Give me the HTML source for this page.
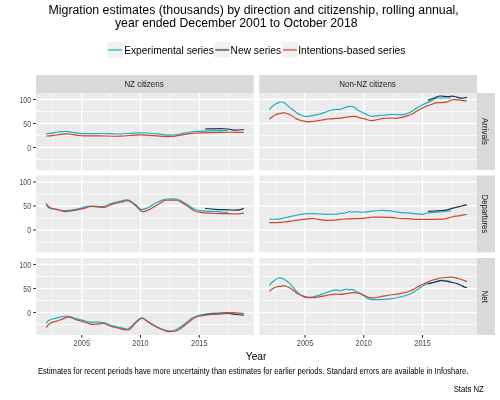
<!DOCTYPE html>
<html><head><meta charset="utf-8"><style>
html,body{margin:0;padding:0;width:500px;height:400px;overflow:hidden;background:#fff}
svg text{font-family:"Liberation Sans",sans-serif}
</style></head><body>
<svg width="500" height="400" viewBox="0 0 500 400" style="position:absolute;left:0;top:0;will-change:transform">
<rect width="500" height="400" fill="#fff"/>
<rect x="36.0" y="75" width="217.75" height="18" fill="#D9D9D9"/>
<rect x="259.25" y="75" width="217.75" height="18" fill="#D9D9D9"/>
<rect x="477" y="93.0" width="18" height="77.0" fill="#D9D9D9"/>
<rect x="477" y="175.5" width="18" height="77.0" fill="#D9D9D9"/>
<rect x="477" y="258.0" width="18" height="77.0" fill="#D9D9D9"/>
<rect x="36.0" y="93.0" width="217.75" height="77.0" fill="#EBEBEB"/>
<line x1="36.0" x2="253.75" y1="111.5" y2="111.5" stroke="#fff" stroke-width="0.66"/>
<line x1="36.0" x2="253.75" y1="135.5" y2="135.5" stroke="#fff" stroke-width="0.66"/>
<line x1="36.0" x2="253.75" y1="159.5" y2="159.5" stroke="#fff" stroke-width="0.66"/>
<line x1="52.375" x2="52.375" y1="93.0" y2="170.0" stroke="#fff" stroke-width="0.66"/>
<line x1="111.125" x2="111.125" y1="93.0" y2="170.0" stroke="#fff" stroke-width="0.66"/>
<line x1="169.875" x2="169.875" y1="93.0" y2="170.0" stroke="#fff" stroke-width="0.66"/>
<line x1="228.625" x2="228.625" y1="93.0" y2="170.0" stroke="#fff" stroke-width="0.66"/>
<line x1="36.0" x2="253.75" y1="99.5" y2="99.5" stroke="#fff" stroke-width="1.32"/>
<line x1="36.0" x2="253.75" y1="123.5" y2="123.5" stroke="#fff" stroke-width="1.32"/>
<line x1="36.0" x2="253.75" y1="147.5" y2="147.5" stroke="#fff" stroke-width="1.32"/>
<line x1="81.75" x2="81.75" y1="93.0" y2="170.0" stroke="#fff" stroke-width="1.32"/>
<line x1="140.5" x2="140.5" y1="93.0" y2="170.0" stroke="#fff" stroke-width="1.32"/>
<line x1="199.25" x2="199.25" y1="93.0" y2="170.0" stroke="#fff" stroke-width="1.32"/>
<rect x="36.0" y="175.5" width="217.75" height="77.0" fill="#EBEBEB"/>
<line x1="36.0" x2="253.75" y1="194.0" y2="194.0" stroke="#fff" stroke-width="0.66"/>
<line x1="36.0" x2="253.75" y1="218.0" y2="218.0" stroke="#fff" stroke-width="0.66"/>
<line x1="36.0" x2="253.75" y1="242.0" y2="242.0" stroke="#fff" stroke-width="0.66"/>
<line x1="52.375" x2="52.375" y1="175.5" y2="252.5" stroke="#fff" stroke-width="0.66"/>
<line x1="111.125" x2="111.125" y1="175.5" y2="252.5" stroke="#fff" stroke-width="0.66"/>
<line x1="169.875" x2="169.875" y1="175.5" y2="252.5" stroke="#fff" stroke-width="0.66"/>
<line x1="228.625" x2="228.625" y1="175.5" y2="252.5" stroke="#fff" stroke-width="0.66"/>
<line x1="36.0" x2="253.75" y1="182.0" y2="182.0" stroke="#fff" stroke-width="1.32"/>
<line x1="36.0" x2="253.75" y1="206.0" y2="206.0" stroke="#fff" stroke-width="1.32"/>
<line x1="36.0" x2="253.75" y1="230.0" y2="230.0" stroke="#fff" stroke-width="1.32"/>
<line x1="81.75" x2="81.75" y1="175.5" y2="252.5" stroke="#fff" stroke-width="1.32"/>
<line x1="140.5" x2="140.5" y1="175.5" y2="252.5" stroke="#fff" stroke-width="1.32"/>
<line x1="199.25" x2="199.25" y1="175.5" y2="252.5" stroke="#fff" stroke-width="1.32"/>
<rect x="36.0" y="258.0" width="217.75" height="77.0" fill="#EBEBEB"/>
<line x1="36.0" x2="253.75" y1="276.5" y2="276.5" stroke="#fff" stroke-width="0.66"/>
<line x1="36.0" x2="253.75" y1="300.5" y2="300.5" stroke="#fff" stroke-width="0.66"/>
<line x1="36.0" x2="253.75" y1="324.5" y2="324.5" stroke="#fff" stroke-width="0.66"/>
<line x1="52.375" x2="52.375" y1="258.0" y2="335.0" stroke="#fff" stroke-width="0.66"/>
<line x1="111.125" x2="111.125" y1="258.0" y2="335.0" stroke="#fff" stroke-width="0.66"/>
<line x1="169.875" x2="169.875" y1="258.0" y2="335.0" stroke="#fff" stroke-width="0.66"/>
<line x1="228.625" x2="228.625" y1="258.0" y2="335.0" stroke="#fff" stroke-width="0.66"/>
<line x1="36.0" x2="253.75" y1="264.5" y2="264.5" stroke="#fff" stroke-width="1.32"/>
<line x1="36.0" x2="253.75" y1="288.5" y2="288.5" stroke="#fff" stroke-width="1.32"/>
<line x1="36.0" x2="253.75" y1="312.5" y2="312.5" stroke="#fff" stroke-width="1.32"/>
<line x1="81.75" x2="81.75" y1="258.0" y2="335.0" stroke="#fff" stroke-width="1.32"/>
<line x1="140.5" x2="140.5" y1="258.0" y2="335.0" stroke="#fff" stroke-width="1.32"/>
<line x1="199.25" x2="199.25" y1="258.0" y2="335.0" stroke="#fff" stroke-width="1.32"/>
<rect x="259.25" y="93.0" width="217.75" height="77.0" fill="#EBEBEB"/>
<line x1="259.25" x2="477.0" y1="111.5" y2="111.5" stroke="#fff" stroke-width="0.66"/>
<line x1="259.25" x2="477.0" y1="135.5" y2="135.5" stroke="#fff" stroke-width="0.66"/>
<line x1="259.25" x2="477.0" y1="159.5" y2="159.5" stroke="#fff" stroke-width="0.66"/>
<line x1="275.625" x2="275.625" y1="93.0" y2="170.0" stroke="#fff" stroke-width="0.66"/>
<line x1="334.375" x2="334.375" y1="93.0" y2="170.0" stroke="#fff" stroke-width="0.66"/>
<line x1="393.125" x2="393.125" y1="93.0" y2="170.0" stroke="#fff" stroke-width="0.66"/>
<line x1="451.875" x2="451.875" y1="93.0" y2="170.0" stroke="#fff" stroke-width="0.66"/>
<line x1="259.25" x2="477.0" y1="99.5" y2="99.5" stroke="#fff" stroke-width="1.32"/>
<line x1="259.25" x2="477.0" y1="123.5" y2="123.5" stroke="#fff" stroke-width="1.32"/>
<line x1="259.25" x2="477.0" y1="147.5" y2="147.5" stroke="#fff" stroke-width="1.32"/>
<line x1="305.0" x2="305.0" y1="93.0" y2="170.0" stroke="#fff" stroke-width="1.32"/>
<line x1="363.75" x2="363.75" y1="93.0" y2="170.0" stroke="#fff" stroke-width="1.32"/>
<line x1="422.5" x2="422.5" y1="93.0" y2="170.0" stroke="#fff" stroke-width="1.32"/>
<rect x="259.25" y="175.5" width="217.75" height="77.0" fill="#EBEBEB"/>
<line x1="259.25" x2="477.0" y1="194.0" y2="194.0" stroke="#fff" stroke-width="0.66"/>
<line x1="259.25" x2="477.0" y1="218.0" y2="218.0" stroke="#fff" stroke-width="0.66"/>
<line x1="259.25" x2="477.0" y1="242.0" y2="242.0" stroke="#fff" stroke-width="0.66"/>
<line x1="275.625" x2="275.625" y1="175.5" y2="252.5" stroke="#fff" stroke-width="0.66"/>
<line x1="334.375" x2="334.375" y1="175.5" y2="252.5" stroke="#fff" stroke-width="0.66"/>
<line x1="393.125" x2="393.125" y1="175.5" y2="252.5" stroke="#fff" stroke-width="0.66"/>
<line x1="451.875" x2="451.875" y1="175.5" y2="252.5" stroke="#fff" stroke-width="0.66"/>
<line x1="259.25" x2="477.0" y1="182.0" y2="182.0" stroke="#fff" stroke-width="1.32"/>
<line x1="259.25" x2="477.0" y1="206.0" y2="206.0" stroke="#fff" stroke-width="1.32"/>
<line x1="259.25" x2="477.0" y1="230.0" y2="230.0" stroke="#fff" stroke-width="1.32"/>
<line x1="305.0" x2="305.0" y1="175.5" y2="252.5" stroke="#fff" stroke-width="1.32"/>
<line x1="363.75" x2="363.75" y1="175.5" y2="252.5" stroke="#fff" stroke-width="1.32"/>
<line x1="422.5" x2="422.5" y1="175.5" y2="252.5" stroke="#fff" stroke-width="1.32"/>
<rect x="259.25" y="258.0" width="217.75" height="77.0" fill="#EBEBEB"/>
<line x1="259.25" x2="477.0" y1="276.5" y2="276.5" stroke="#fff" stroke-width="0.66"/>
<line x1="259.25" x2="477.0" y1="300.5" y2="300.5" stroke="#fff" stroke-width="0.66"/>
<line x1="259.25" x2="477.0" y1="324.5" y2="324.5" stroke="#fff" stroke-width="0.66"/>
<line x1="275.625" x2="275.625" y1="258.0" y2="335.0" stroke="#fff" stroke-width="0.66"/>
<line x1="334.375" x2="334.375" y1="258.0" y2="335.0" stroke="#fff" stroke-width="0.66"/>
<line x1="393.125" x2="393.125" y1="258.0" y2="335.0" stroke="#fff" stroke-width="0.66"/>
<line x1="451.875" x2="451.875" y1="258.0" y2="335.0" stroke="#fff" stroke-width="0.66"/>
<line x1="259.25" x2="477.0" y1="264.5" y2="264.5" stroke="#fff" stroke-width="1.32"/>
<line x1="259.25" x2="477.0" y1="288.5" y2="288.5" stroke="#fff" stroke-width="1.32"/>
<line x1="259.25" x2="477.0" y1="312.5" y2="312.5" stroke="#fff" stroke-width="1.32"/>
<line x1="305.0" x2="305.0" y1="258.0" y2="335.0" stroke="#fff" stroke-width="1.32"/>
<line x1="363.75" x2="363.75" y1="258.0" y2="335.0" stroke="#fff" stroke-width="1.32"/>
<line x1="422.5" x2="422.5" y1="258.0" y2="335.0" stroke="#fff" stroke-width="1.32"/>
<path d="M46.20,133.60 C46.83,133.57 48.70,133.53 50.00,133.40 C51.30,133.27 52.67,133.03 54.00,132.80 C55.33,132.57 56.67,132.20 58.00,132.00 C59.33,131.80 60.67,131.70 62.00,131.60 C63.33,131.50 64.67,131.37 66.00,131.40 C67.33,131.43 68.67,131.60 70.00,131.80 C71.33,132.00 72.67,132.37 74.00,132.60 C75.33,132.83 76.33,133.03 78.00,133.20 C79.67,133.37 80.33,133.55 84.00,133.60 C87.67,133.65 95.50,133.50 100.00,133.50 C104.50,133.50 107.67,133.52 111.00,133.60 C114.33,133.68 116.50,134.07 120.00,134.00 C123.50,133.93 128.67,133.40 132.00,133.20 C135.33,133.00 137.33,132.83 140.00,132.80 C142.67,132.77 146.00,132.88 148.00,133.00 C150.00,133.12 150.00,133.30 152.00,133.50 C154.00,133.70 157.00,133.92 160.00,134.20 C163.00,134.48 166.67,135.23 170.00,135.20 C173.33,135.17 176.67,134.53 180.00,134.00 C183.33,133.47 186.67,132.45 190.00,132.00 C193.33,131.55 195.00,131.53 200.00,131.30 C205.00,131.07 215.33,130.73 220.00,130.60 C224.67,130.47 226.67,130.52 228.00,130.50" fill="none" stroke="#1CAEC4" stroke-width="1.2" stroke-linejoin="round"/>
<path d="M269.30,109.60 C269.82,109.07 271.35,107.33 272.40,106.40 C273.45,105.47 274.50,104.67 275.60,104.00 C276.70,103.33 278.10,102.73 279.00,102.40 C279.90,102.07 280.33,102.02 281.00,102.00 C281.67,101.98 282.30,102.03 283.00,102.30 C283.70,102.57 284.37,102.98 285.20,103.60 C286.03,104.22 287.03,105.20 288.00,106.00 C288.97,106.80 290.00,107.60 291.00,108.40 C292.00,109.20 293.00,110.03 294.00,110.80 C295.00,111.57 296.00,112.33 297.00,113.00 C298.00,113.67 298.83,114.30 300.00,114.80 C301.17,115.30 303.00,115.72 304.00,116.00 C305.00,116.28 305.33,116.43 306.00,116.50 C306.67,116.57 307.00,116.55 308.00,116.40 C309.00,116.25 310.67,115.87 312.00,115.60 C313.33,115.33 314.67,115.07 316.00,114.80 C317.33,114.53 318.67,114.37 320.00,114.00 C321.33,113.63 322.67,113.07 324.00,112.60 C325.33,112.13 326.67,111.63 328.00,111.20 C329.33,110.77 330.67,110.30 332.00,110.00 C333.33,109.70 334.67,109.50 336.00,109.40 C337.33,109.30 338.50,109.70 340.00,109.40 C341.50,109.10 343.67,108.07 345.00,107.60 C346.33,107.13 346.83,106.78 348.00,106.60 C349.17,106.42 351.00,106.42 352.00,106.50 C353.00,106.58 353.17,106.62 354.00,107.10 C354.83,107.58 356.00,108.72 357.00,109.40 C358.00,110.08 358.83,110.57 360.00,111.20 C361.17,111.83 362.67,112.53 364.00,113.20 C365.33,113.87 366.67,114.67 368.00,115.20 C369.33,115.73 370.67,116.27 372.00,116.40 C373.33,116.53 374.67,116.18 376.00,116.00 C377.33,115.82 378.67,115.43 380.00,115.30 C381.33,115.17 382.67,115.28 384.00,115.20 C385.33,115.12 386.67,114.93 388.00,114.80 C389.33,114.67 390.67,114.43 392.00,114.40 C393.33,114.37 394.67,114.57 396.00,114.60 C397.33,114.63 398.67,114.60 400.00,114.60 C401.33,114.60 402.67,114.83 404.00,114.60 C405.33,114.37 406.67,113.77 408.00,113.20 C409.33,112.63 410.67,112.00 412.00,111.20 C413.33,110.40 414.67,109.27 416.00,108.40 C417.33,107.53 418.67,106.73 420.00,106.00 C421.33,105.27 422.67,104.60 424.00,104.00 C425.33,103.40 426.67,102.97 428.00,102.40 C429.33,101.83 430.67,101.28 432.00,100.60 C433.33,99.92 434.67,98.73 436.00,98.30 C437.33,97.87 437.47,98.05 440.00,98.00 C442.53,97.95 449.33,98.00 451.20,98.00" fill="none" stroke="#1CAEC4" stroke-width="1.2" stroke-linejoin="round"/>
<path d="M46.20,205.00 C46.50,205.33 47.37,206.43 48.00,207.00 C48.63,207.57 49.00,208.03 50.00,208.40 C51.00,208.77 52.33,208.93 54.00,209.20 C55.67,209.47 58.33,209.77 60.00,210.00 C61.67,210.23 62.67,210.53 64.00,210.60 C65.33,210.67 66.33,210.57 68.00,210.40 C69.67,210.23 72.00,209.93 74.00,209.60 C76.00,209.27 78.33,208.80 80.00,208.40 C81.67,208.00 82.67,207.53 84.00,207.20 C85.33,206.87 86.67,206.60 88.00,206.40 C89.33,206.20 90.67,206.03 92.00,206.00 C93.33,205.97 94.67,206.10 96.00,206.20 C97.33,206.30 98.67,206.57 100.00,206.60 C101.33,206.63 102.67,206.70 104.00,206.40 C105.33,206.10 106.67,205.30 108.00,204.80 C109.33,204.30 110.67,203.80 112.00,203.40 C113.33,203.00 114.67,202.77 116.00,202.40 C117.33,202.03 118.67,201.55 120.00,201.20 C121.33,200.85 122.83,200.53 124.00,200.30 C125.17,200.07 126.00,199.72 127.00,199.80 C128.00,199.88 128.50,199.93 130.00,200.80 C131.50,201.67 134.17,203.60 136.00,205.00 C137.83,206.40 139.33,208.60 141.00,209.20 C142.67,209.80 144.17,209.23 146.00,208.60 C147.83,207.97 150.00,206.50 152.00,205.40 C154.00,204.30 156.00,202.97 158.00,202.00 C160.00,201.03 162.33,200.10 164.00,199.60 C165.67,199.10 166.00,199.10 168.00,199.00 C170.00,198.90 174.00,198.80 176.00,199.00 C178.00,199.20 178.00,199.20 180.00,200.20 C182.00,201.20 185.67,203.53 188.00,205.00 C190.33,206.47 192.00,208.05 194.00,209.00 C196.00,209.95 197.00,210.30 200.00,210.70 C203.00,211.10 207.33,211.10 212.00,211.40 C216.67,211.70 225.33,212.32 228.00,212.50" fill="none" stroke="#1CAEC4" stroke-width="1.2" stroke-linejoin="round"/>
<path d="M269.30,219.20 C270.42,219.20 274.22,219.27 276.00,219.20 C277.78,219.13 278.67,219.03 280.00,218.80 C281.33,218.57 282.67,218.07 284.00,217.80 C285.33,217.53 286.67,217.47 288.00,217.20 C289.33,216.93 290.67,216.50 292.00,216.20 C293.33,215.90 294.67,215.68 296.00,215.40 C297.33,215.12 298.67,214.73 300.00,214.50 C301.33,214.27 302.67,214.15 304.00,214.00 C305.33,213.85 306.67,213.67 308.00,213.60 C309.33,213.53 310.00,213.53 312.00,213.60 C314.00,213.67 317.33,213.87 320.00,214.00 C322.67,214.13 325.33,214.37 328.00,214.40 C330.67,214.43 334.33,214.25 336.00,214.20 C337.67,214.15 337.33,214.23 338.00,214.10 C338.67,213.97 339.00,213.55 340.00,213.40 C341.00,213.25 343.00,213.30 344.00,213.20 C345.00,213.10 345.33,213.02 346.00,212.80 C346.67,212.58 347.42,212.12 348.00,211.90 C348.58,211.68 348.92,211.45 349.50,211.50 C350.08,211.55 350.75,212.15 351.50,212.20 C352.25,212.25 353.08,211.87 354.00,211.80 C354.92,211.73 356.00,211.73 357.00,211.80 C358.00,211.87 358.83,212.13 360.00,212.20 C361.17,212.27 362.33,212.33 364.00,212.20 C365.67,212.07 367.33,211.68 370.00,211.40 C372.67,211.12 376.67,210.60 380.00,210.50 C383.33,210.40 387.33,210.58 390.00,210.80 C392.67,211.02 394.33,211.53 396.00,211.80 C397.67,212.07 398.67,212.22 400.00,212.40 C401.33,212.58 402.67,212.82 404.00,212.90 C405.33,212.98 406.67,212.82 408.00,212.90 C409.33,212.98 410.67,213.25 412.00,213.40 C413.33,213.55 414.67,213.67 416.00,213.80 C417.33,213.93 419.00,214.10 420.00,214.20 C421.00,214.30 421.33,214.47 422.00,214.40 C422.67,214.33 423.00,214.03 424.00,213.80 C425.00,213.57 426.67,213.20 428.00,213.00 C429.33,212.80 430.67,212.73 432.00,212.60 C433.33,212.47 434.67,212.30 436.00,212.20 C437.33,212.10 438.33,212.12 440.00,212.00 C441.67,211.88 444.13,211.68 446.00,211.50 C447.87,211.32 450.33,211.00 451.20,210.90" fill="none" stroke="#1CAEC4" stroke-width="1.2" stroke-linejoin="round"/>
<path d="M46.20,323.20 C46.50,322.83 47.37,321.57 48.00,321.00 C48.63,320.43 49.33,320.13 50.00,319.80 C50.67,319.47 51.00,319.27 52.00,319.00 C53.00,318.73 54.67,318.50 56.00,318.20 C57.33,317.90 58.67,317.50 60.00,317.20 C61.33,316.90 62.83,316.60 64.00,316.40 C65.17,316.20 66.00,315.97 67.00,316.00 C68.00,316.03 68.83,316.27 70.00,316.60 C71.17,316.93 73.00,317.67 74.00,318.00 C75.00,318.33 75.00,318.33 76.00,318.60 C77.00,318.87 78.67,319.27 80.00,319.60 C81.33,319.93 82.67,320.27 84.00,320.60 C85.33,320.93 86.67,321.32 88.00,321.60 C89.33,321.88 90.67,322.22 92.00,322.30 C93.33,322.38 94.67,322.12 96.00,322.10 C97.33,322.08 98.67,322.12 100.00,322.20 C101.33,322.28 102.67,322.25 104.00,322.60 C105.33,322.95 106.67,323.80 108.00,324.30 C109.33,324.80 110.67,325.23 112.00,325.60 C113.33,325.97 115.00,326.23 116.00,326.50 C117.00,326.77 116.67,326.88 118.00,327.20 C119.33,327.52 122.33,328.12 124.00,328.40 C125.67,328.68 126.67,329.33 128.00,328.90 C129.33,328.47 130.67,327.02 132.00,325.80 C133.33,324.58 134.67,322.80 136.00,321.60 C137.33,320.40 138.92,319.20 140.00,318.60 C141.08,318.00 141.17,317.50 142.50,318.00 C143.83,318.50 146.42,320.60 148.00,321.60 C149.58,322.60 150.67,323.20 152.00,324.00 C153.33,324.80 154.67,325.68 156.00,326.40 C157.33,327.12 158.67,327.73 160.00,328.30 C161.33,328.87 162.92,329.42 164.00,329.80 C165.08,330.18 165.50,330.42 166.50,330.60 C167.50,330.78 168.75,330.90 170.00,330.90 C171.25,330.90 172.83,330.92 174.00,330.60 C175.17,330.28 176.00,329.57 177.00,329.00 C178.00,328.43 178.83,327.97 180.00,327.20 C181.17,326.43 182.67,325.40 184.00,324.40 C185.33,323.40 186.67,322.27 188.00,321.20 C189.33,320.13 190.67,318.80 192.00,318.00 C193.33,317.20 194.67,316.87 196.00,316.40 C197.33,315.93 198.33,315.57 200.00,315.20 C201.67,314.83 203.50,314.53 206.00,314.20 C208.50,313.87 211.33,313.48 215.00,313.20 C218.67,312.92 225.83,312.62 228.00,312.50" fill="none" stroke="#1CAEC4" stroke-width="1.2" stroke-linejoin="round"/>
<path d="M269.30,285.40 C269.82,284.83 271.35,282.97 272.40,282.00 C273.45,281.03 274.60,280.27 275.60,279.60 C276.60,278.93 277.67,278.30 278.40,278.00 C279.13,277.70 279.40,277.75 280.00,277.80 C280.60,277.85 281.13,277.93 282.00,278.30 C282.87,278.67 284.20,279.38 285.20,280.00 C286.20,280.62 287.03,281.20 288.00,282.00 C288.97,282.80 290.00,283.73 291.00,284.80 C292.00,285.87 293.00,287.27 294.00,288.40 C295.00,289.53 296.00,290.60 297.00,291.60 C298.00,292.60 299.00,293.60 300.00,294.40 C301.00,295.20 302.00,295.90 303.00,296.40 C304.00,296.90 304.83,297.23 306.00,297.40 C307.17,297.57 308.00,297.70 310.00,297.40 C312.00,297.10 315.33,296.37 318.00,295.60 C320.67,294.83 323.33,293.70 326.00,292.80 C328.67,291.90 332.17,290.67 334.00,290.20 C335.83,289.73 336.00,289.90 337.00,290.00 C338.00,290.10 338.83,290.87 340.00,290.80 C341.17,290.73 342.93,289.90 344.00,289.60 C345.07,289.30 345.57,288.97 346.40,289.00 C347.23,289.03 348.07,289.73 349.00,289.80 C349.93,289.87 351.00,289.23 352.00,289.40 C353.00,289.57 354.00,290.30 355.00,290.80 C356.00,291.30 356.83,291.80 358.00,292.40 C359.17,293.00 360.67,293.60 362.00,294.40 C363.33,295.20 364.83,296.43 366.00,297.20 C367.17,297.97 368.00,298.60 369.00,299.00 C370.00,299.40 370.50,299.50 372.00,299.60 C373.50,299.70 375.00,299.72 378.00,299.60 C381.00,299.48 386.33,299.33 390.00,298.90 C393.67,298.47 396.67,297.82 400.00,297.00 C403.33,296.18 407.33,295.08 410.00,294.00 C412.67,292.92 414.33,291.53 416.00,290.50 C417.67,289.47 418.50,288.75 420.00,287.80 C421.50,286.85 423.33,285.55 425.00,284.80 C426.67,284.05 428.17,283.85 430.00,283.30 C431.83,282.75 434.00,281.98 436.00,281.50 C438.00,281.02 439.47,280.35 442.00,280.40 C444.53,280.45 449.67,281.57 451.20,281.80" fill="none" stroke="#1CAEC4" stroke-width="1.2" stroke-linejoin="round"/>
<path d="M205.00,129.00 C207.50,128.95 216.17,128.70 220.00,128.70 C223.83,128.70 225.50,128.75 228.00,129.00 C230.50,129.25 232.37,130.10 235.00,130.20 C237.63,130.30 242.33,129.70 243.80,129.60" fill="none" stroke="#1E3450" stroke-width="1.2" stroke-linejoin="round"/>
<path d="M428.00,100.40 C428.67,100.13 430.67,99.33 432.00,98.80 C433.33,98.27 434.67,97.67 436.00,97.20 C437.33,96.73 438.67,96.13 440.00,96.00 C441.33,95.87 442.67,96.30 444.00,96.40 C445.33,96.50 446.67,96.63 448.00,96.60 C449.33,96.57 450.67,96.17 452.00,96.20 C453.33,96.23 454.67,96.52 456.00,96.80 C457.33,97.08 458.67,97.70 460.00,97.90 C461.33,98.10 462.85,98.12 464.00,98.00 C465.15,97.88 466.42,97.33 466.90,97.20" fill="none" stroke="#1E3450" stroke-width="1.2" stroke-linejoin="round"/>
<path d="M205.00,208.30 C206.67,208.47 211.17,209.05 215.00,209.30 C218.83,209.55 224.50,209.65 228.00,209.80 C231.50,209.95 234.00,210.22 236.00,210.20 C238.00,210.18 238.70,210.02 240.00,209.70 C241.30,209.38 243.17,208.53 243.80,208.30" fill="none" stroke="#1E3450" stroke-width="1.2" stroke-linejoin="round"/>
<path d="M428.00,211.40 C430.00,211.27 437.33,210.77 440.00,210.60 C442.67,210.43 442.67,210.57 444.00,210.40 C445.33,210.23 446.67,209.93 448.00,209.60 C449.33,209.27 450.67,208.77 452.00,208.40 C453.33,208.03 454.67,207.73 456.00,207.40 C457.33,207.07 458.67,206.73 460.00,206.40 C461.33,206.07 462.85,205.67 464.00,205.40 C465.15,205.13 466.42,204.90 466.90,204.80" fill="none" stroke="#1E3450" stroke-width="1.2" stroke-linejoin="round"/>
<path d="M205.00,314.50 C207.50,314.38 216.17,313.97 220.00,313.80 C223.83,313.63 225.33,313.38 228.00,313.50 C230.67,313.62 233.37,314.20 236.00,314.50 C238.63,314.80 242.50,315.17 243.80,315.30" fill="none" stroke="#1E3450" stroke-width="1.2" stroke-linejoin="round"/>
<path d="M428.00,283.80 C429.33,283.50 434.00,282.52 436.00,282.00 C438.00,281.48 438.50,280.87 440.00,280.70 C441.50,280.53 443.33,280.78 445.00,281.00 C446.67,281.22 448.33,281.67 450.00,282.00 C451.67,282.33 453.33,282.53 455.00,283.00 C456.67,283.47 458.33,284.08 460.00,284.80 C461.67,285.52 463.85,286.88 465.00,287.30 C466.15,287.72 466.58,287.30 466.90,287.30" fill="none" stroke="#1E3450" stroke-width="1.2" stroke-linejoin="round"/>
<path d="M46.20,136.00 C46.83,135.97 48.70,135.90 50.00,135.80 C51.30,135.70 52.67,135.57 54.00,135.40 C55.33,135.23 56.67,135.00 58.00,134.80 C59.33,134.60 60.67,134.37 62.00,134.20 C63.33,134.03 64.67,133.83 66.00,133.80 C67.33,133.77 68.67,133.83 70.00,134.00 C71.33,134.17 72.67,134.57 74.00,134.80 C75.33,135.03 76.33,135.23 78.00,135.40 C79.67,135.57 80.33,135.73 84.00,135.80 C87.67,135.87 94.00,135.73 100.00,135.80 C106.00,135.87 113.33,136.37 120.00,136.20 C126.67,136.03 133.33,134.80 140.00,134.80 C146.67,134.80 154.67,135.93 160.00,136.20 C165.33,136.47 167.00,136.83 172.00,136.40 C177.00,135.97 185.33,134.18 190.00,133.60 C194.67,133.02 195.00,133.12 200.00,132.90 C205.00,132.68 212.70,132.40 220.00,132.30 C227.30,132.20 239.83,132.30 243.80,132.30" fill="none" stroke="#C9472E" stroke-width="1.2" stroke-linejoin="round"/>
<path d="M269.30,119.20 C269.82,118.80 271.35,117.53 272.40,116.80 C273.45,116.07 274.50,115.33 275.60,114.80 C276.70,114.27 277.93,113.87 279.00,113.60 C280.07,113.33 281.25,113.37 282.00,113.20 C282.75,113.03 282.83,112.60 283.50,112.60 C284.17,112.60 284.92,112.83 286.00,113.20 C287.08,113.57 288.83,114.27 290.00,114.80 C291.17,115.33 292.00,115.77 293.00,116.40 C294.00,117.03 294.83,117.97 296.00,118.60 C297.17,119.23 298.67,119.77 300.00,120.20 C301.33,120.63 302.83,120.93 304.00,121.20 C305.17,121.47 305.67,121.77 307.00,121.80 C308.33,121.83 310.50,121.53 312.00,121.40 C313.50,121.27 314.67,121.17 316.00,121.00 C317.33,120.83 318.67,120.63 320.00,120.40 C321.33,120.17 322.67,119.83 324.00,119.60 C325.33,119.37 326.67,119.13 328.00,119.00 C329.33,118.87 330.67,118.90 332.00,118.80 C333.33,118.70 334.67,118.50 336.00,118.40 C337.33,118.30 338.00,118.47 340.00,118.20 C342.00,117.93 345.50,117.10 348.00,116.80 C350.50,116.50 353.00,116.22 355.00,116.40 C357.00,116.58 358.50,117.53 360.00,117.90 C361.50,118.27 362.67,118.25 364.00,118.60 C365.33,118.95 366.67,119.67 368.00,120.00 C369.33,120.33 370.67,120.60 372.00,120.60 C373.33,120.60 374.67,120.27 376.00,120.00 C377.33,119.73 378.67,119.27 380.00,119.00 C381.33,118.73 382.67,118.53 384.00,118.40 C385.33,118.27 386.67,118.27 388.00,118.20 C389.33,118.13 390.67,117.98 392.00,118.00 C393.33,118.02 394.67,118.35 396.00,118.30 C397.33,118.25 398.67,117.95 400.00,117.70 C401.33,117.45 402.67,117.15 404.00,116.80 C405.33,116.45 406.67,116.07 408.00,115.60 C409.33,115.13 410.67,114.67 412.00,114.00 C413.33,113.33 414.67,112.40 416.00,111.60 C417.33,110.80 418.67,109.93 420.00,109.20 C421.33,108.47 422.67,107.80 424.00,107.20 C425.33,106.60 426.67,106.10 428.00,105.60 C429.33,105.10 430.67,104.67 432.00,104.20 C433.33,103.73 434.67,103.07 436.00,102.80 C437.33,102.53 438.67,102.67 440.00,102.60 C441.33,102.53 442.67,102.57 444.00,102.40 C445.33,102.23 446.83,101.97 448.00,101.60 C449.17,101.23 450.00,100.53 451.00,100.20 C452.00,99.87 452.83,99.67 454.00,99.60 C455.17,99.53 456.67,99.67 458.00,99.80 C459.33,99.93 460.52,100.20 462.00,100.40 C463.48,100.60 466.08,100.90 466.90,101.00" fill="none" stroke="#C9472E" stroke-width="1.2" stroke-linejoin="round"/>
<path d="M46.20,203.40 C46.50,203.83 47.37,205.30 48.00,206.00 C48.63,206.70 49.33,207.20 50.00,207.60 C50.67,208.00 51.00,208.13 52.00,208.40 C53.00,208.67 54.67,208.87 56.00,209.20 C57.33,209.53 58.83,210.05 60.00,210.40 C61.17,210.75 62.00,211.08 63.00,211.30 C64.00,211.52 64.83,211.72 66.00,211.70 C67.17,211.68 68.67,211.42 70.00,211.20 C71.33,210.98 72.67,210.67 74.00,210.40 C75.33,210.13 76.33,209.95 78.00,209.60 C79.67,209.25 82.33,208.73 84.00,208.30 C85.67,207.87 86.67,207.32 88.00,207.00 C89.33,206.68 90.67,206.43 92.00,206.40 C93.33,206.37 94.67,206.67 96.00,206.80 C97.33,206.93 98.67,207.10 100.00,207.20 C101.33,207.30 102.67,207.60 104.00,207.40 C105.33,207.20 106.67,206.50 108.00,206.00 C109.33,205.50 110.67,204.87 112.00,204.40 C113.33,203.93 114.67,203.53 116.00,203.20 C117.33,202.87 118.67,202.70 120.00,202.40 C121.33,202.10 122.83,201.70 124.00,201.40 C125.17,201.10 126.00,200.57 127.00,200.60 C128.00,200.63 128.50,200.70 130.00,201.60 C131.50,202.50 134.00,204.37 136.00,206.00 C138.00,207.63 140.00,210.70 142.00,211.40 C144.00,212.10 146.33,210.77 148.00,210.20 C149.67,209.63 150.33,208.93 152.00,208.00 C153.67,207.07 156.00,205.80 158.00,204.60 C160.00,203.40 162.33,201.53 164.00,200.80 C165.67,200.07 166.00,200.30 168.00,200.20 C170.00,200.10 174.00,200.00 176.00,200.20 C178.00,200.40 178.00,200.33 180.00,201.40 C182.00,202.47 185.67,205.07 188.00,206.60 C190.33,208.13 192.00,209.63 194.00,210.60 C196.00,211.57 196.50,211.92 200.00,212.40 C203.50,212.88 210.33,213.28 215.00,213.50 C219.67,213.72 224.50,213.62 228.00,213.70 C231.50,213.78 233.37,214.07 236.00,214.00 C238.63,213.93 242.50,213.42 243.80,213.30" fill="none" stroke="#C9472E" stroke-width="1.2" stroke-linejoin="round"/>
<path d="M269.30,222.60 C270.42,222.60 274.22,222.63 276.00,222.60 C277.78,222.57 278.67,222.50 280.00,222.40 C281.33,222.30 282.67,222.13 284.00,222.00 C285.33,221.87 286.67,221.77 288.00,221.60 C289.33,221.43 290.67,221.20 292.00,221.00 C293.33,220.80 294.67,220.60 296.00,220.40 C297.33,220.20 298.67,220.00 300.00,219.80 C301.33,219.60 302.50,219.37 304.00,219.20 C305.50,219.03 307.50,218.93 309.00,218.80 C310.50,218.67 311.83,218.37 313.00,218.40 C314.17,218.43 314.83,218.80 316.00,219.00 C317.17,219.20 318.67,219.40 320.00,219.60 C321.33,219.80 322.67,220.07 324.00,220.20 C325.33,220.33 326.67,220.40 328.00,220.40 C329.33,220.40 330.67,220.27 332.00,220.20 C333.33,220.13 334.67,220.13 336.00,220.00 C337.33,219.87 338.67,219.57 340.00,219.40 C341.33,219.23 342.33,219.10 344.00,219.00 C345.67,218.90 347.00,218.90 350.00,218.80 C353.00,218.70 359.33,218.53 362.00,218.40 C364.67,218.27 364.67,218.18 366.00,218.00 C367.33,217.82 368.50,217.45 370.00,217.30 C371.50,217.15 371.67,217.10 375.00,217.10 C378.33,217.10 385.83,217.07 390.00,217.30 C394.17,217.53 397.00,218.27 400.00,218.50 C403.00,218.73 406.00,218.62 408.00,218.70 C410.00,218.78 410.00,218.88 412.00,219.00 C414.00,219.12 417.33,219.33 420.00,219.40 C422.67,219.47 424.67,219.43 428.00,219.40 C431.33,219.37 437.33,219.27 440.00,219.20 C442.67,219.13 442.67,219.20 444.00,219.00 C445.33,218.80 446.67,218.33 448.00,218.00 C449.33,217.67 450.67,217.30 452.00,217.00 C453.33,216.70 454.67,216.43 456.00,216.20 C457.33,215.97 458.67,215.83 460.00,215.60 C461.33,215.37 462.85,215.00 464.00,214.80 C465.15,214.60 466.42,214.47 466.90,214.40" fill="none" stroke="#C9472E" stroke-width="1.2" stroke-linejoin="round"/>
<path d="M46.20,327.60 C46.50,327.20 47.37,325.87 48.00,325.20 C48.63,324.53 49.33,324.07 50.00,323.60 C50.67,323.13 51.00,322.80 52.00,322.40 C53.00,322.00 54.67,321.60 56.00,321.20 C57.33,320.80 58.67,320.47 60.00,320.00 C61.33,319.53 62.83,318.87 64.00,318.40 C65.17,317.93 66.00,317.37 67.00,317.20 C68.00,317.03 68.83,317.13 70.00,317.40 C71.17,317.67 73.00,318.43 74.00,318.80 C75.00,319.17 75.00,319.27 76.00,319.60 C77.00,319.93 78.67,320.40 80.00,320.80 C81.33,321.20 82.67,321.60 84.00,322.00 C85.33,322.40 86.67,322.82 88.00,323.20 C89.33,323.58 90.67,324.13 92.00,324.30 C93.33,324.47 94.67,324.28 96.00,324.20 C97.33,324.12 98.67,323.92 100.00,323.80 C101.33,323.68 102.67,323.27 104.00,323.50 C105.33,323.73 106.67,324.68 108.00,325.20 C109.33,325.72 110.67,326.20 112.00,326.60 C113.33,327.00 115.00,327.37 116.00,327.60 C117.00,327.83 116.00,327.60 118.00,328.00 C120.00,328.40 125.67,330.17 128.00,330.00 C130.33,329.83 130.67,328.23 132.00,327.00 C133.33,325.77 134.67,323.90 136.00,322.60 C137.33,321.30 138.83,319.92 140.00,319.20 C141.17,318.48 141.67,317.83 143.00,318.30 C144.33,318.77 146.50,320.98 148.00,322.00 C149.50,323.02 150.67,323.60 152.00,324.40 C153.33,325.20 154.67,326.08 156.00,326.80 C157.33,327.52 158.67,328.13 160.00,328.70 C161.33,329.27 162.83,329.77 164.00,330.20 C165.17,330.63 165.67,331.08 167.00,331.30 C168.33,331.52 170.50,331.55 172.00,331.50 C173.50,331.45 174.67,331.42 176.00,331.00 C177.33,330.58 178.67,329.83 180.00,329.00 C181.33,328.17 182.67,327.03 184.00,326.00 C185.33,324.97 186.67,323.90 188.00,322.80 C189.33,321.70 190.67,320.33 192.00,319.40 C193.33,318.47 194.67,317.77 196.00,317.20 C197.33,316.63 198.67,316.30 200.00,316.00 C201.33,315.70 201.50,315.77 204.00,315.40 C206.50,315.03 211.00,314.23 215.00,313.80 C219.00,313.37 224.50,312.97 228.00,312.80 C231.50,312.63 233.37,312.68 236.00,312.80 C238.63,312.92 242.50,313.38 243.80,313.50" fill="none" stroke="#C9472E" stroke-width="1.2" stroke-linejoin="round"/>
<path d="M269.30,291.40 C269.82,290.97 271.35,289.50 272.40,288.80 C273.45,288.10 274.50,287.60 275.60,287.20 C276.70,286.80 277.93,286.57 279.00,286.40 C280.07,286.23 281.33,286.32 282.00,286.20 C282.67,286.08 282.33,285.70 283.00,285.70 C283.67,285.70 284.83,285.82 286.00,286.20 C287.17,286.58 288.67,287.23 290.00,288.00 C291.33,288.77 292.83,289.93 294.00,290.80 C295.17,291.67 296.00,292.53 297.00,293.20 C298.00,293.87 299.00,294.33 300.00,294.80 C301.00,295.27 301.67,295.58 303.00,296.00 C304.33,296.42 306.17,297.02 308.00,297.30 C309.83,297.58 311.67,297.87 314.00,297.70 C316.33,297.53 318.67,296.88 322.00,296.30 C325.33,295.72 331.00,294.52 334.00,294.20 C337.00,293.88 338.00,294.50 340.00,294.40 C342.00,294.30 344.33,293.83 346.00,293.60 C347.67,293.37 348.50,293.17 350.00,293.00 C351.50,292.83 353.67,292.57 355.00,292.60 C356.33,292.63 356.83,292.90 358.00,293.20 C359.17,293.50 360.67,293.87 362.00,294.40 C363.33,294.93 364.83,295.87 366.00,296.40 C367.17,296.93 367.67,297.37 369.00,297.60 C370.33,297.83 372.17,297.93 374.00,297.80 C375.83,297.67 377.33,297.27 380.00,296.80 C382.67,296.33 386.67,295.52 390.00,295.00 C393.33,294.48 396.67,294.37 400.00,293.70 C403.33,293.03 407.33,291.98 410.00,291.00 C412.67,290.02 414.33,288.70 416.00,287.80 C417.67,286.90 418.50,286.33 420.00,285.60 C421.50,284.87 423.00,284.28 425.00,283.40 C427.00,282.52 430.00,281.07 432.00,280.30 C434.00,279.53 434.83,279.27 437.00,278.80 C439.17,278.33 442.50,277.77 445.00,277.50 C447.50,277.23 449.83,277.03 452.00,277.20 C454.17,277.37 455.52,277.78 458.00,278.50 C460.48,279.22 465.42,281.00 466.90,281.50" fill="none" stroke="#C9472E" stroke-width="1.2" stroke-linejoin="round"/>
<line x1="33.2" x2="36" y1="99.5" y2="99.5" stroke="#333" stroke-width="1.1"/>
<text x="19.40" y="102.80" font-family="Liberation Sans, sans-serif" font-size="8.4" fill="#4D4D4D" textLength="11.77" lengthAdjust="spacingAndGlyphs" >100</text>
<line x1="33.2" x2="36" y1="123.5" y2="123.5" stroke="#333" stroke-width="1.1"/>
<text x="23.33" y="126.80" font-family="Liberation Sans, sans-serif" font-size="8.4" fill="#4D4D4D" textLength="7.85" lengthAdjust="spacingAndGlyphs" >50</text>
<line x1="33.2" x2="36" y1="147.5" y2="147.5" stroke="#333" stroke-width="1.1"/>
<text x="27.25" y="150.80" font-family="Liberation Sans, sans-serif" font-size="8.4" fill="#4D4D4D" textLength="3.92" lengthAdjust="spacingAndGlyphs" >0</text>
<line x1="33.2" x2="36" y1="182.0" y2="182.0" stroke="#333" stroke-width="1.1"/>
<text x="19.40" y="185.30" font-family="Liberation Sans, sans-serif" font-size="8.4" fill="#4D4D4D" textLength="11.77" lengthAdjust="spacingAndGlyphs" >100</text>
<line x1="33.2" x2="36" y1="206.0" y2="206.0" stroke="#333" stroke-width="1.1"/>
<text x="23.33" y="209.30" font-family="Liberation Sans, sans-serif" font-size="8.4" fill="#4D4D4D" textLength="7.85" lengthAdjust="spacingAndGlyphs" >50</text>
<line x1="33.2" x2="36" y1="230.0" y2="230.0" stroke="#333" stroke-width="1.1"/>
<text x="27.25" y="233.30" font-family="Liberation Sans, sans-serif" font-size="8.4" fill="#4D4D4D" textLength="3.92" lengthAdjust="spacingAndGlyphs" >0</text>
<line x1="33.2" x2="36" y1="264.5" y2="264.5" stroke="#333" stroke-width="1.1"/>
<text x="19.40" y="267.80" font-family="Liberation Sans, sans-serif" font-size="8.4" fill="#4D4D4D" textLength="11.77" lengthAdjust="spacingAndGlyphs" >100</text>
<line x1="33.2" x2="36" y1="288.5" y2="288.5" stroke="#333" stroke-width="1.1"/>
<text x="23.33" y="291.80" font-family="Liberation Sans, sans-serif" font-size="8.4" fill="#4D4D4D" textLength="7.85" lengthAdjust="spacingAndGlyphs" >50</text>
<line x1="33.2" x2="36" y1="312.5" y2="312.5" stroke="#333" stroke-width="1.1"/>
<text x="27.25" y="315.80" font-family="Liberation Sans, sans-serif" font-size="8.4" fill="#4D4D4D" textLength="3.92" lengthAdjust="spacingAndGlyphs" >0</text>
<line x1="81.75" x2="81.75" y1="335" y2="337.8" stroke="#333" stroke-width="1.1"/>
<text x="73.55" y="346.20" font-family="Liberation Sans, sans-serif" font-size="8.4" fill="#4D4D4D" textLength="16.55" lengthAdjust="spacingAndGlyphs" >2005</text>
<line x1="140.5" x2="140.5" y1="335" y2="337.8" stroke="#333" stroke-width="1.1"/>
<text x="132.30" y="346.20" font-family="Liberation Sans, sans-serif" font-size="8.4" fill="#4D4D4D" textLength="16.43" lengthAdjust="spacingAndGlyphs" >2010</text>
<line x1="199.25" x2="199.25" y1="335" y2="337.8" stroke="#333" stroke-width="1.1"/>
<text x="191.05" y="346.20" font-family="Liberation Sans, sans-serif" font-size="8.4" fill="#4D4D4D" textLength="16.55" lengthAdjust="spacingAndGlyphs" >2015</text>
<line x1="305.0" x2="305.0" y1="335" y2="337.8" stroke="#333" stroke-width="1.1"/>
<text x="296.80" y="346.20" font-family="Liberation Sans, sans-serif" font-size="8.4" fill="#4D4D4D" textLength="16.55" lengthAdjust="spacingAndGlyphs" >2005</text>
<line x1="363.75" x2="363.75" y1="335" y2="337.8" stroke="#333" stroke-width="1.1"/>
<text x="355.55" y="346.20" font-family="Liberation Sans, sans-serif" font-size="8.4" fill="#4D4D4D" textLength="16.43" lengthAdjust="spacingAndGlyphs" >2010</text>
<line x1="422.5" x2="422.5" y1="335" y2="337.8" stroke="#333" stroke-width="1.1"/>
<text x="414.30" y="346.20" font-family="Liberation Sans, sans-serif" font-size="8.4" fill="#4D4D4D" textLength="16.55" lengthAdjust="spacingAndGlyphs" >2015</text>
<text x="124.38" y="87.20" font-family="Liberation Sans, sans-serif" font-size="8.7" fill="#1A1A1A" textLength="39.27" lengthAdjust="spacingAndGlyphs" >NZ citizens</text>
<text x="339.28" y="87.20" font-family="Liberation Sans, sans-serif" font-size="8.7" fill="#1A1A1A" textLength="56.57" lengthAdjust="spacingAndGlyphs" >Non-NZ citizens</text>
<text transform="translate(482.30,117.70) rotate(90)" x="0" y="0" font-family="Liberation Sans, sans-serif" font-size="8.7" fill="#1A1A1A" textLength="27.26" lengthAdjust="spacingAndGlyphs">Arrivals</text>
<text transform="translate(482.30,194.59) rotate(90)" x="0" y="0" font-family="Liberation Sans, sans-serif" font-size="8.7" fill="#1A1A1A" textLength="38.65" lengthAdjust="spacingAndGlyphs">Departures</text>
<text transform="translate(482.30,290.48) rotate(90)" x="0" y="0" font-family="Liberation Sans, sans-serif" font-size="8.7" fill="#1A1A1A" textLength="12.40" lengthAdjust="spacingAndGlyphs">Net</text>
<text x="48.54" y="14.00" font-family="Liberation Sans, sans-serif" font-size="12.3" fill="#000" textLength="410.18" lengthAdjust="spacingAndGlyphs" >Migration estimates (thousands) by direction and citizenship, rolling annual,</text>
<text x="115.00" y="26.80" font-family="Liberation Sans, sans-serif" font-size="12.2" fill="#000" textLength="242.50" lengthAdjust="spacingAndGlyphs" >year ended December 2001 to October 2018</text>
<rect x="107" y="42" width="16" height="15.6" fill="#F2F2F2"/>
<line x1="108.1" x2="122" y1="49.9" y2="49.9" stroke="#1CAEC4" stroke-width="2" opacity="0.62"/>
<text x="124.20" y="54.10" font-family="Liberation Sans, sans-serif" font-size="10.5" fill="#000" textLength="89.72" lengthAdjust="spacingAndGlyphs" >Experimental series</text>
<rect x="214.2" y="42" width="16" height="15.6" fill="#F2F2F2"/>
<line x1="215.29999999999998" x2="229.2" y1="49.9" y2="49.9" stroke="#1E3450" stroke-width="2" opacity="0.62"/>
<text x="230.60" y="54.10" font-family="Liberation Sans, sans-serif" font-size="10.5" fill="#000" textLength="50.52" lengthAdjust="spacingAndGlyphs" >New series</text>
<rect x="281.8" y="42" width="16" height="15.6" fill="#F2F2F2"/>
<line x1="282.90000000000003" x2="296.8" y1="49.9" y2="49.9" stroke="#C9472E" stroke-width="2" opacity="0.62"/>
<text x="298.19" y="54.10" font-family="Liberation Sans, sans-serif" font-size="10.5" fill="#000" textLength="107.34" lengthAdjust="spacingAndGlyphs" >Intentions-based series</text>
<text x="245.84" y="359.80" font-family="Liberation Sans, sans-serif" font-size="10.5" fill="#000" textLength="20.61" lengthAdjust="spacingAndGlyphs" >Year</text>
<text x="37.91" y="373.90" font-family="Liberation Sans, sans-serif" font-size="8.7" fill="#000" textLength="430.48" lengthAdjust="spacingAndGlyphs" >Estimates for recent periods have more uncertainty than estimates for earlier periods. Standard errors are available in Infoshare.</text>
<text x="453.66" y="391.90" font-family="Liberation Sans, sans-serif" font-size="8.7" fill="#000" textLength="30.18" lengthAdjust="spacingAndGlyphs" >Stats NZ</text>
</svg>
</body></html>
